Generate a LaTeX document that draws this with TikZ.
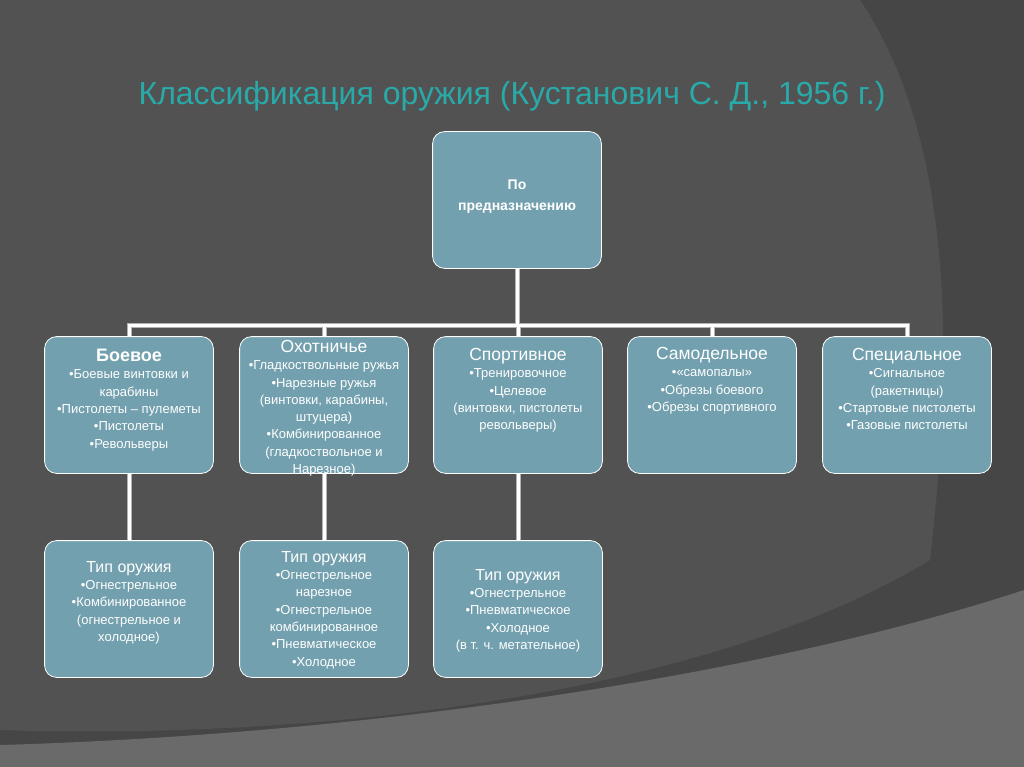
\documentclass[tikz,border=0pt]{standalone}
\usepackage{fontspec}
\setmainfont{Liberation Sans}
\usetikzlibrary{positioning}
\definecolor{bgdark}{HTML}{464646}
\definecolor{bgmid}{HTML}{525252}
\definecolor{bglight}{HTML}{6A6A6A}
\definecolor{boxfill}{HTML}{73A0AE}
\definecolor{titleteal}{HTML}{2AA9A9}

\begin{document}
\begin{tikzpicture}[x=1pt, y=-1pt,
box/.style={draw=white, fill=boxfill, rounded corners=12pt, line width=0.8pt,
  minimum width=168pt, minimum height=136pt, inner sep=0pt},
label/.style={anchor=north, inner sep=0pt, align=center, text=white,
  font=\fontsize{13}{17.3}\selectfont},
link/.style={draw=gray!60, line width=5pt},
linkin/.style={draw=white, line width=3pt},
]
% background
\fill[bgdark] (0,0) rectangle (1024,767);
\fill[bgmid] (0,0) -- (860,0) .. controls (940,120) and (960,300) .. (930,560)
  .. controls (700,700) and (300,740) .. (0,730) -- cycle;
\fill[bglight] (0,767) -- (0,745) .. controls (350,735) and (750,680) .. (1024,590) -- (1024,767) -- cycle;
\useasboundingbox (0,0) rectangle (1024,767);

\node[text=titleteal, font=\fontsize{32}{36}\selectfont] (title) at (512,96)
  {Классификация оружия (Кустанович С. Д., 1956 г.)};

% boxes
\node[box] (root) at (517,200) {};
\node[box] (combat) at (129,405) {};
\node[box] (hunt) at (324,405) {};
\node[box] (sport) at (518,405) {};
\node[box] (homemade) at (712,405) {};
\node[box] (special) at (907,405) {};
\node[box] (typea) at (129,609) {};
\node[box] (typeb) at (324,609) {};
\node[box] (typec) at (518,609) {};

% connectors
\coordinate (bus) at (517,325);
\foreach \n in {combat,hunt,sport,homemade,special}{
  \draw[link] (root.south) |- (bus) -| (\n.north);
}
\foreach \n in {combat,hunt,sport,homemade,special}{
  \draw[linkin] (root.south) |- (bus) -| (\n.north);
}
\draw[link] (combat.south) -- (typea.north);
\draw[link] (hunt.south) -- (typeb.north);
\draw[link] (sport.south) -- (typec.north);
\draw[linkin] (combat.south) -- (typea.north);
\draw[linkin] (hunt.south) -- (typeb.north);
\draw[linkin] (sport.south) -- (typec.north);

% boxes on top of the connectors
\foreach \n in {root,combat,hunt,sport,homemade,special,typea,typeb,typec}{
  \draw[white, fill=boxfill, line width=0.8pt, rounded corners=12pt] (\n.north west) rectangle (\n.south east);
}

% texts
\node[label, font=\bfseries\fontsize{14}{21}\selectfont] (root-text) at (517,180) {По\\предназначению};
\node[label] (combat-text) at (129,349) {{\bfseries\fontsize{18}{20}\selectfont Боевое}\\•Боевые винтовки и\\карабины\\•Пистолеты – пулеметы\\•Пистолеты\\•Револьверы};
\node[label] (hunt-text) at (324,340) {{\fontsize{17.5}{20}\selectfont Охотничье}\\•Гладкоствольные ружья\\•Нарезные ружья\\(винтовки, карабины,\\штуцера)\\•Комбинированное\\(гладкоствольное и\\Нарезное)};
\node[label] (sport-text) at (518,348) {{\fontsize{17.5}{20}\selectfont Спортивное}\\•Тренировочное\\•Целевое\\(винтовки, пистолеты\\револьверы)};
\node[label] (homemade-text) at (712,347) {{\fontsize{17.5}{20}\selectfont Самодельное}\\•«самопалы»\\•Обрезы боевого\\•Обрезы спортивного};
\node[label] (special-text) at (907,348) {{\fontsize{17.5}{20}\selectfont Специальное}\\•Сигнальное\\(ракетницы)\\•Стартовые пистолеты\\•Газовые пистолеты};
\node[label] (typea-text) at (129,561) {{\fontsize{16}{19}\selectfont Тип оружия}\\•Огнестрельное\\•Комбинированное\\(огнестрельное и\\холодное)};
\node[label] (typeb-text) at (324,551) {{\fontsize{16}{19}\selectfont Тип оружия}\\•Огнестрельное\\нарезное\\•Огнестрельное\\комбинированное\\•Пневматическое\\•Холодное};
\node[label] (typec-text) at (518,569) {{\fontsize{16}{19}\selectfont Тип оружия}\\•Огнестрельное\\•Пневматическое\\•Холодное\\(в т. ч. метательное)};
\end{tikzpicture}
\end{document}
